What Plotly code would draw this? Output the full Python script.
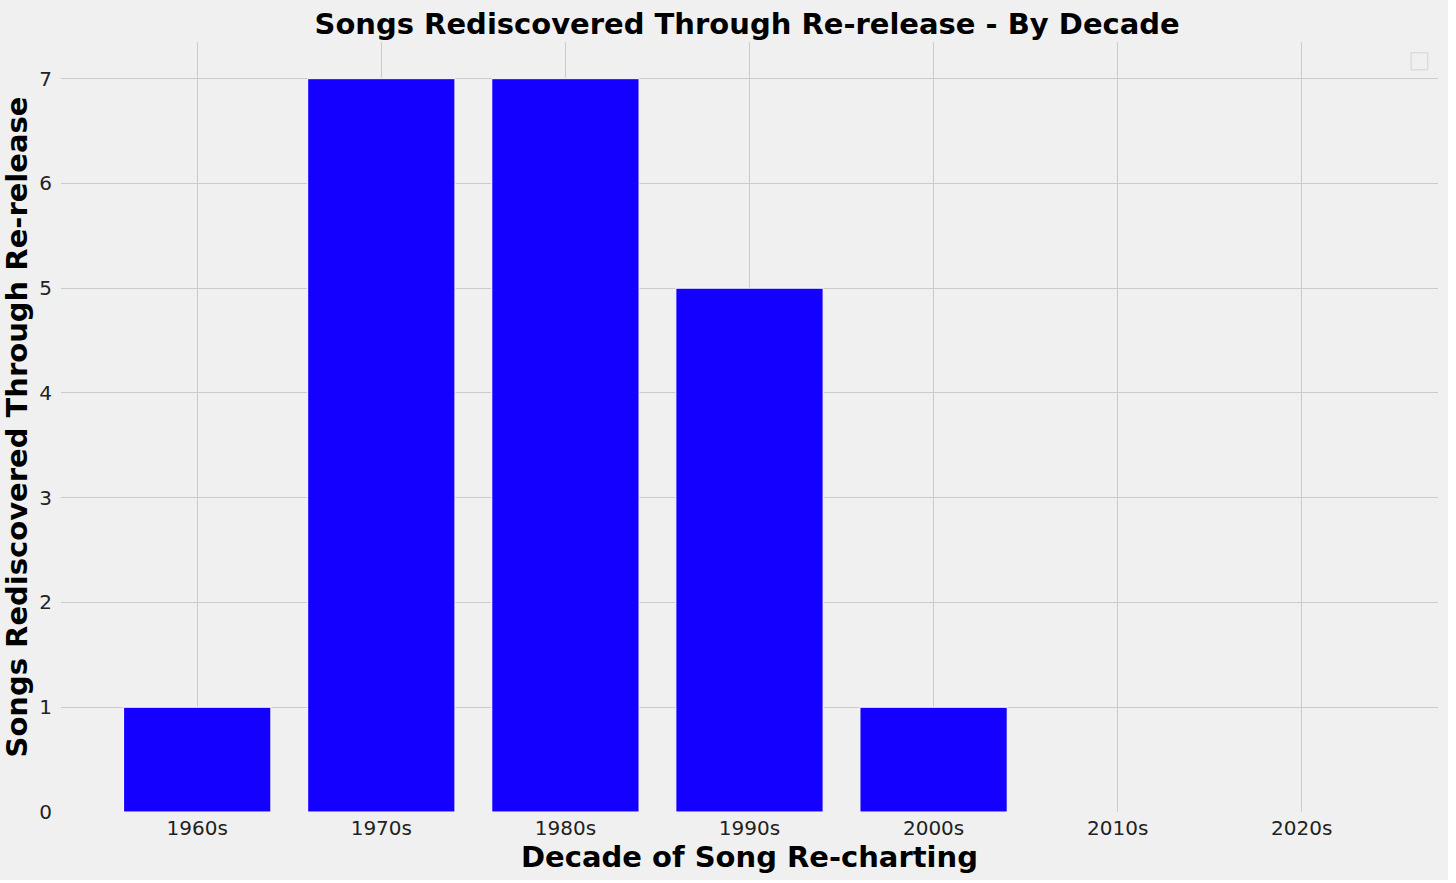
import plotly.graph_objects as go

decades = ["1960s", "1970s", "1980s", "1990s", "2000s", "2010s", "2020s"]
songs_rediscovered = [1, 7, 7, 5, 1, 0, 0]
y_ticks = [0, 1, 2, 3, 4, 5, 6, 7]

BG = "#f0f0f0"
GRID = "#cbcbcb"
FONT = "DejaVu Sans"

fig = go.Figure()
fig.add_trace(
    go.Bar(
        x=list(range(len(decades))),
        y=songs_rediscovered,
        width=0.8,
        marker=dict(
            color="#1400ff",
            line=dict(color="white", width=[1 if v > 0 else 0 for v in songs_rediscovered]),
        ),
        showlegend=False,
    )
)

# empty legend box, as in the original
fig.add_shape(
    type="rect", xref="paper", yref="paper",
    x0=0.9805, x1=0.9925, y0=0.964, y1=0.986,
    line=dict(color="#dcdcdc", width=1.5), fillcolor=BG,
)

fig.update_layout(
    width=1448,
    height=880,
    paper_bgcolor=BG,
    plot_bgcolor=BG,
    margin=dict(l=61, r=10, t=42, b=68),
    font=dict(family=FONT, size=20, color="#222222"),
    title=dict(
        text="<b>Songs Rediscovered Through Re-release - By Decade</b>",
        x=0.516, xanchor="center", y=0.973, yanchor="middle",
        font=dict(size=29, color="black"),
    ),
    bargap=0.2,
)
fig.update_xaxes(
    tickmode="array",
    tickvals=list(range(len(decades))),
    ticktext=decades,
    range=[-0.74, 6.74],
    showgrid=True, gridcolor=GRID, gridwidth=1,
    zeroline=False, showline=False, ticks="", ticklabelstandoff=2,
    title=dict(text="<b>Decade of Song Re-charting</b>", font=dict(size=29, color="black"), standoff=2),
)
fig.update_yaxes(
    tickmode="array",
    tickvals=y_ticks,
    range=[0, 7.35],
    showgrid=True, gridcolor=GRID, gridwidth=1,
    zeroline=False, showline=False, ticks="", ticklabelstandoff=8,
    title=dict(text="<b>Songs Rediscovered Through Re-release</b>", font=dict(size=29, color="black"), standoff=6),
)

fig.write_html(
    "out.html",
    config={"displayModeBar": False},
    post_script="document.body.style.margin='0';",
)
